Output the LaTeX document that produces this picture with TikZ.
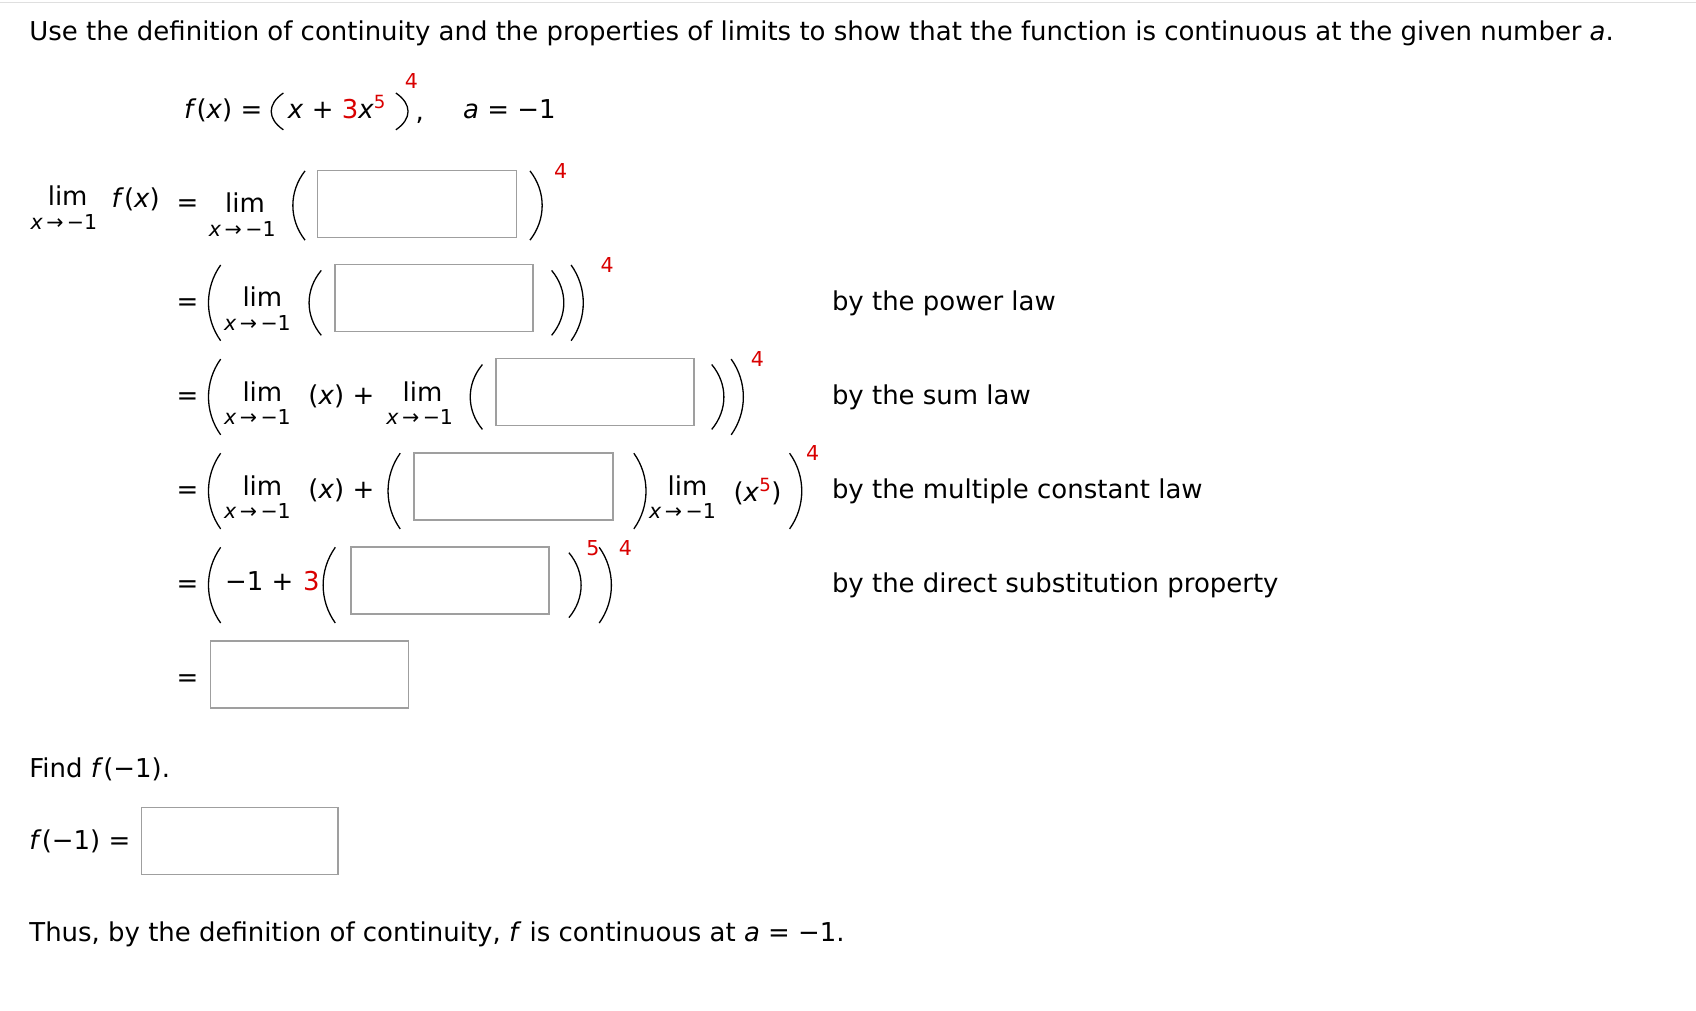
\documentclass[tikz,border=0pt]{standalone}
\usepackage{fontspec}
\setmainfont{DejaVu Sans}
\begin{document}
\begin{tikzpicture}[x=1pt,y=-1pt,
  t/.style={anchor=mid west,inner sep=0pt,font=\fontsize{24}{28}\selectfont},
  s/.style={anchor=mid west,inner sep=0pt,font=\fontsize{19}{22}\selectfont},
  r/.style={anchor=mid west,inner sep=0pt,font=\fontsize{19}{22}\selectfont,text=red!85!black},
  ansbox/.style={draw=gray!75,line width=1.3pt,inner sep=0pt},
  par/.style={line width=1.2pt}]
\useasboundingbox (0,0) rectangle (1568,934);
\newcommand\LPar[3]{\draw[par] ({#1+12},{#2}) .. controls ({#1-3},{#2+(#3-#2)*0.3}) and ({#1-3},{#2+(#3-#2)*0.7}) .. ({#1+12},{#3});}
\newcommand\RPar[3]{\draw[par] ({#1},{#2}) .. controls ({#1+15},{#2+(#3-#2)*0.3}) and ({#1+15},{#2+(#3-#2)*0.7}) .. ({#1},{#3});}
\newcommand\Sub{\textit{x}\,→\,−1}
\draw[gray!25,line width=1pt] (0,2) -- (1568,2);
\node[t] (title) at (27,35) {Use the definition of continuity and the properties of limits to show that the function is continuous at the given number \textit{a}.};
% f(x)
\node[t] (fx) at (170,107) {\textit{f}(\textit{x}) =};
\LPar{250}{86}{120}
\node[t] (fx2) at (266,107) {\textit{x} + \textcolor{red!85!black}{3}\textit{x}\textsuperscript{\textcolor{red!85!black}{5}}};
\RPar{366}{86}{120}
\node[r] (f4) at (374,79) {4};
\node[t] (comma) at (384,109) {,};
\node[t] (aeq) at (428,107) {\textit{a} = −1};
% row 1
\node[t] (l1) at (44,187) {lim};
\node[s] (l1s) at (28,209) {\Sub};
\node[t] (fx1) at (103,189) {\textit{f}(\textit{x})};
\node[t] (eq1) at (163,193) {=};
\node[t] (l1b) at (208,194) {lim};
\node[s] (l1bs) at (193,216) {\Sub};
\LPar{270}{158}{222}
\node[ansbox,minimum width=184pt,minimum height=62pt,anchor=north west] (b1) at (293,157) {};
\RPar{490}{158}{222}
\node[r] (e1) at (512,162) {4};
% row 2
\node[t] (eq2) at (163,284) {=};
\LPar{192}{245}{315}
\node[t] (l2) at (224,281) {lim};
\node[s] (l2s) at (207,303) {\Sub};
\LPar{285}{250}{310}
\node[ansbox,minimum width=183pt,minimum height=62pt,anchor=north west] (b2) at (309,244) {};
\RPar{510}{250}{310}
\RPar{528}{245}{315}
\node[r] (e2) at (555,249) {4};
\node[t] (w2) at (769,284) {by the power law};
% row 3
\node[t] (eq3) at (163,371) {=};
\LPar{192}{332}{402}
\node[t] (l3) at (224,368) {lim};
\node[s] (l3s) at (207,390) {\Sub};
\node[t] (x3) at (285,371) {(\textit{x}) +};
\node[t] (l3b) at (372,368) {lim};
\node[s] (l3bs) at (357,390) {\Sub};
\LPar{434}{337}{397}
\node[ansbox,minimum width=183pt,minimum height=62pt,anchor=north west] (b3) at (458,331) {};
\RPar{658}{337}{397}
\RPar{676}{332}{402}
\node[r] (e3) at (694,336) {4};
\node[t] (w3) at (769,371) {by the sum law};
% row 4
\node[t] (eq4) at (163,458) {=};
\LPar{192}{419}{489}
\node[t] (l4) at (224,455) {lim};
\node[s] (l4s) at (207,477) {\Sub};
\node[t] (x4) at (285,458) {(\textit{x}) +};
\LPar{358}{419}{489}
\node[ansbox,minimum width=184pt,minimum height=62pt,anchor=north west] (b4) at (382,418) {};
\RPar{586}{419}{489}
\node[t] (l4b) at (617,455) {lim};
\node[s] (l4bs) at (600,477) {\Sub};
\node[t] (x45) at (678,461) {(\textit{x}\textsuperscript{\textcolor{red!85!black}{5}})};
\RPar{730}{419}{489}
\node[r] (e4) at (745,423) {4};
\node[t] (w4) at (769,458) {by the multiple constant law};
% row 5
\node[t] (eq5) at (163,545) {=};
\LPar{192}{506}{576}
\node[t] (m5) at (208,543) {−1 +};
\node[t,text=red!85!black] (c5) at (280,543) {3};
\LPar{298}{506}{576}
\node[ansbox,minimum width=183pt,minimum height=62pt,anchor=north west] (b5) at (324,505) {};
\RPar{526}{511}{571}
\node[r] (p5) at (542,511) {5};
\RPar{554}{506}{576}
\node[r] (e5) at (572,511) {4};
\node[t] (w5) at (769,545) {by the direct substitution property};
% row 6
\node[t] (eq6) at (163,632) {=};
\node[ansbox,minimum width=183pt,minimum height=62pt,anchor=north west] (b6) at (194,592) {};
% find
\node[t] (find) at (27,716) {Find \textit{f}(−1).};
\node[t] (fm1) at (27,783) {\textit{f}(−1) =};
\node[ansbox,minimum width=182pt,minimum height=62pt,anchor=north west] (b7) at (130,746) {};
\node[t] (thus) at (27,868) {Thus, by the definition of continuity, \textit{f} is continuous at \textit{a} = −1.};
\end{tikzpicture}
\end{document}
